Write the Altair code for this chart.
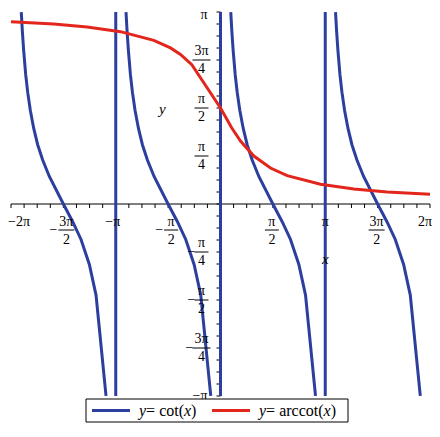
import math
import altair as alt
import pandas as pd

PI = math.pi

# ---------------- data ----------------
# cot(x): four branches between asymptotes, clipped to [-pi, pi]
cot_branch1_x = [-5.975, -5.943, -5.903, -5.843, -5.783, -5.703, -5.603, -5.483, -5.333, -5.133, -4.713, -4.433, -4.183, -3.933, -3.733, -3.433]
cot_branch2_x = [-2.834, -2.802, -2.762, -2.702, -2.642, -2.562, -2.462, -2.342, -2.192, -1.992, -1.572, -1.292, -1.042, -0.792, -0.592, -0.292]
cot_branch3_x = [0.308, 0.34, 0.38, 0.44, 0.5, 0.58, 0.68, 0.8, 0.95, 1.15, 1.57, 1.85, 2.1, 2.35, 2.55, 2.85]
cot_branch4_x = [3.450, 3.482, 3.522, 3.582, 3.642, 3.722, 3.822, 3.942, 4.092, 4.292, 4.712, 4.992, 5.242, 5.492, 5.692, 5.992]
cot_branch_y = [3.14, 2.83, 2.51, 2.12, 1.83, 1.53, 1.24, 0.97, 0.72, 0.45, 0.0, -0.29, -0.58, -0.99, -1.49, -3.14]
# vertical jump segments drawn at the asymptotes
asymptote_x = [-3.1416, 0.0, 3.1416]
asymptote_y = [-3.1416, 3.1416]

# arccot(x)
arccot_x = [-6.283, -5.0, -4.0, -3.0, -2.0, -1.5, -1.2, -0.86, 0.0, 0.33, 0.6, 1.0, 1.5, 2.0, 3.0, 4.0, 5.0, 6.283]
arccot_y = [2.984, 2.944, 2.897, 2.820, 2.678, 2.554, 2.448, 2.280, 1.571, 1.252, 1.030, 0.785, 0.588, 0.464, 0.322, 0.245, 0.197, 0.158]

series_colors = ["#2d3f9e", "#e3261c"]
# legend entries: (italic y, "= fn(", italic x, ")")
legend_fn = ["cot", "arccot"]

# tick labels
x_label_vals = [-2 * PI, -PI, PI, 2 * PI]
x_label_text = ["−2π", "−π", "π", "2π"]
x_frac_vals = [-1.5 * PI, -0.5 * PI, 0.5 * PI, 1.5 * PI]
x_frac_num = ["3π", "π", "π", "3π"]
x_frac_den = ["2", "2", "2", "2"]
y_label_vals = [PI, -PI]
y_label_text = ["π", "−π"]
y_frac_vals = [0.75 * PI, 0.5 * PI, 0.25 * PI, -0.25 * PI, -0.5 * PI, -0.75 * PI]
y_frac_num = ["3π", "π", "π", "π", "π", "3π"]
y_frac_den = ["4", "2", "4", "4", "2", "4"]

x_tick_vals = [k * PI / 8 for k in range(-16, 17)]
y_tick_vals = [k * PI / 16 for k in range(-16, 17)]

# ---------------- build tables ----------------
rows = []
seg = 0
for bx in [cot_branch1_x, cot_branch2_x, cot_branch3_x, cot_branch4_x]:
    for i, (a, b) in enumerate(zip(bx, cot_branch_y)):
        rows.append({"x": a, "y": b, "seg": seg, "i": i})
    seg += 1
for ax in asymptote_x:
    for i, b in enumerate(asymptote_y):
        rows.append({"x": ax, "y": b, "seg": seg, "i": i})
    seg += 1
cot_df = pd.DataFrame(rows)
arc_df = pd.DataFrame({"x": arccot_x, "y": arccot_y, "i": range(len(arccot_x))})

W, H = 419, 384
FONT = "Liberation Serif"
FS = 14

xs = alt.Scale(domain=[-2 * PI, 2 * PI], nice=False, zero=False)
ys = alt.Scale(domain=[-PI, PI], nice=False, zero=False)


def one(v):
    return pd.DataFrame({"v": [v]})


# ---- axes drawn by hand through the origin ----
axis_layers = [
    alt.Chart(one(0)).mark_rule(color="black", strokeWidth=1).encode(
        x=alt.XDatum(-2 * PI, scale=xs, axis=None), x2=alt.datum(2 * PI),
        y=alt.YDatum(0, scale=ys, axis=None)),
    alt.Chart(one(0)).mark_rule(color="black", strokeWidth=1).encode(
        y=alt.YDatum(-PI, scale=ys, axis=None), y2=alt.datum(PI),
        x=alt.XDatum(0, scale=xs, axis=None)),
    alt.Chart(pd.DataFrame({"v": x_tick_vals})).mark_rule(color="black", strokeWidth=1, y2Offset=4).encode(
        x=alt.X("v:Q", scale=xs, axis=None), y=alt.YDatum(0, scale=ys, axis=None), y2=alt.datum(0)),
    alt.Chart(pd.DataFrame({"v": y_tick_vals})).mark_rule(color="black", strokeWidth=1, xOffset=-4).encode(
        y=alt.Y("v:Q", scale=ys, axis=None), x=alt.XDatum(0, scale=xs, axis=None), x2=alt.datum(0)),
]

blue = alt.Chart(cot_df).mark_line(strokeWidth=3, clip=True, color=series_colors[0]).encode(
    x=alt.X("x:Q", scale=xs, axis=None),
    y=alt.Y("y:Q", scale=ys, axis=None),
    detail="seg:N",
    order="i:Q",
)
red = alt.Chart(arc_df).mark_line(strokeWidth=3, clip=True, color=series_colors[1]).encode(
    x=alt.X("x:Q", scale=xs, axis=None),
    y=alt.Y("y:Q", scale=ys, axis=None),
    order="i:Q",
)


def xtext(v, s, dx, dy, align="center"):
    return alt.Chart(one(v)).mark_text(text=s, dx=dx, dy=dy, align=align, baseline="middle",
                                       font=FONT, fontSize=FS, color="black").encode(
        x=alt.X("v:Q", scale=xs, axis=None), y=alt.YDatum(0, scale=ys, axis=None))


def xbar(v, o1, o2, yo):
    return alt.Chart(one(v)).mark_rule(xOffset=o1, x2Offset=o2, yOffset=yo, color="black",
                                       strokeWidth=1).encode(
        x=alt.X("v:Q", scale=xs, axis=None), x2=alt.X2("v"), y=alt.YDatum(0, scale=ys, axis=None))


def ytext(v, s, dx, dy, align="center"):
    return alt.Chart(one(v)).mark_text(text=s, dx=dx, dy=dy, align=align, baseline="middle",
                                       font=FONT, fontSize=FS, color="black").encode(
        x=alt.XDatum(0, scale=xs, axis=None), y=alt.Y("v:Q", scale=ys, axis=None))


def ybar(v, o1, o2):
    return alt.Chart(one(v)).mark_rule(xOffset=o1, x2Offset=o2, color="black",
                                       strokeWidth=1).encode(
        x=alt.XDatum(0, scale=xs, axis=None), x2=alt.datum(0), y=alt.Y("v:Q", scale=ys, axis=None))


layers = []
# x-axis simple labels
n = len(x_label_vals)
for k, (v, s) in enumerate(zip(x_label_vals, x_label_text)):
    if k == 0:
        layers.append(xtext(v, s, -3, 18, align="left"))
    elif k == n - 1:
        layers.append(xtext(v, s, 2, 18, align="right"))
    else:
        layers.append(xtext(v, s, -3 if v < 0 else 0, 18))
# x-axis fractions
for v, num, den in zip(x_frac_vals, x_frac_num, x_frac_den):
    neg = v < 0
    half = 8 if num.startswith("3") else 7
    sh = 3 if neg else -1
    layers.append(xtext(v, num, sh, 18))
    layers.append(xbar(v, sh - half, sh + half, 26))
    layers.append(xtext(v, den, sh, 36))
    if neg:
        layers.append(xtext(v, "−", sh - half - 5, 26))
# y-axis simple labels (top one nudged down so it stays inside the page)
for v, s in zip(y_label_vals, y_label_text):
    layers.append(ytext(v, s, -13, 3 if v > 0 else 0, align="right"))
# y-axis fractions
for v, num, den in zip(y_frac_vals, y_frac_num, y_frac_den):
    half = 9 if num.startswith("3") else 7
    c = -19
    layers.append(ytext(v, num, c, -9))
    layers.append(ybar(v, c - half, c + half))
    layers.append(ytext(v, den, c, 9))
    if v < 0:
        layers.append(ytext(v, "−", c - half - 3, 0))

# ---- axis letters ----
t_df = pd.DataFrame({"t": [0]})


def free_text(s, px, py, size, italic):
    kw = dict(text=s, font=FONT, fontSize=size, color="black", baseline="middle", align="left")
    if italic:
        kw["fontStyle"] = "italic"
    return alt.Chart(t_df).mark_text(**kw).encode(x=alt.value(px), y=alt.value(py))


layers.append(free_text("x", 311, 247, 15, True))
layers.append(free_text("y", 148, 97, 15, True))

# ---- legend (drawn by hand so y and x can be italic) ----
LG_FS = 16
box = alt.Chart(t_df).mark_rect(fill="white", stroke="black", strokeWidth=1).encode(
    x=alt.value(75), x2=alt.value(337), y=alt.value(387), y2=alt.value(410))
layers.append(box)
ly = 398.5
# advance widths of Times-like serif, in 1/1000 em
adv = {"y": 444, "x": 444, "=": 564, " ": 250, "c": 444, "o": 500, "t": 278, "(": 333,
       ")": 333, "a": 444, "r": 333}
line_starts = [81, 201]
for k, fn in enumerate(legend_fn):
    x0 = line_starts[k]
    layers.append(alt.Chart(t_df).mark_rule(color=series_colors[k], strokeWidth=3).encode(
        x=alt.value(x0), x2=alt.value(x0 + 38), y=alt.value(ly)))
    pos = x0 + 47
    for s, it in [("y", True), ("= " + fn + "(", False), ("x", True), (")", False)]:
        layers.append(free_text(s, pos, ly, LG_FS, it))
        pos += sum(adv.get(ch, 500) for ch in s) * LG_FS / 1000.0

chart = alt.layer(*axis_layers, blue, red, *layers).properties(
    width=W, height=H,
    padding={"left": 3, "top": 4, "right": 2, "bottom": 27},
    autosize=alt.AutoSizeParams(type="none"),
    background="white",
).configure_view(stroke=None)

chart.save("out.html", embed_options={"renderer": "svg", "actions": False})
